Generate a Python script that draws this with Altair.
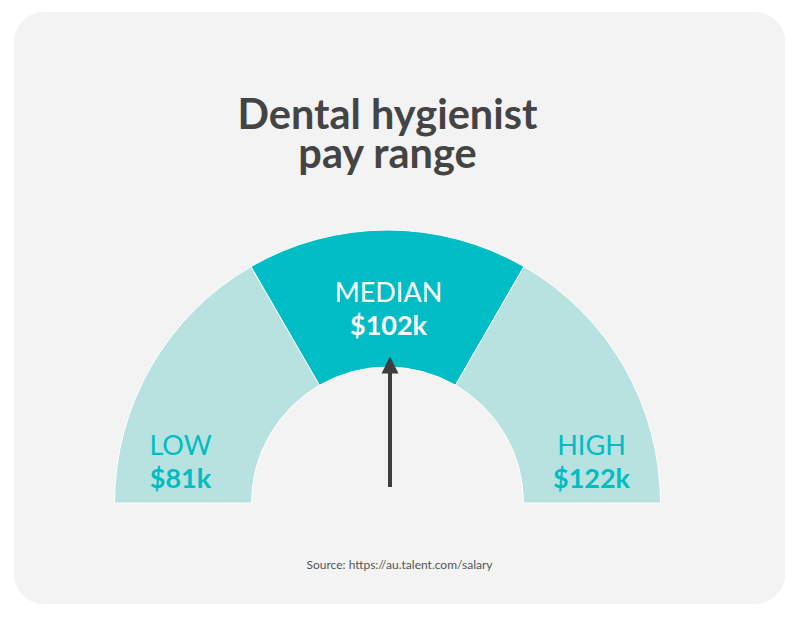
import math
import altair as alt
import pandas as pd

# ---- data ----
categories = ["LOW", "MEDIAN", "HIGH"]
salaries = ["$81k", "$102k", "$122k"]
shares = [1, 1, 1]
title_lines = ["Dental hygienist", "pay range"]
source_note = ["Source: https://au.talent.com/salary"]

# ---- style ----
TEAL = "#00bcc4"
LIGHT = "#b8e2df"
DARK = "#444444"
FONT = "Lato"

W, H = 771, 592
CX, CY = 373.5, 491
R_OUT, R_IN = 273, 136

# label layout offsets (dx from centre, baseline heights above centre)
label_layout = {
    "LOW": (-207, 48, 15),
    "MEDIAN": (1, 201, 168),
    "HIGH": (204, 48, 15),
}

df = pd.DataFrame({"category": categories, "salary": salaries,
                   "share": shares, "order": list(range(len(categories)))})

arcs = alt.Chart(df).mark_arc(radius=R_OUT, radius2=R_IN, stroke="white",
                              strokeWidth=1).encode(
    theta=alt.Theta("share:Q", stack=True,
                    scale=alt.Scale(range=[-math.pi / 2, math.pi / 2])),
    order=alt.Order("order:Q"),
    color=alt.Color("category:N",
                    scale=alt.Scale(domain=categories, range=[LIGHT, TEAL, LIGHT]),
                    legend=None),
    x=alt.value(CX),
    y=alt.value(CY),
)

layers = [arcs]
txt_color = alt.condition(alt.datum.category == "MEDIAN", alt.value("white"), alt.value(TEAL))
for cat in categories:
    dx, h1, h2 = label_layout[cat]
    base = alt.Chart(df).transform_filter(alt.datum.category == cat)
    layers.append(base.mark_text(font=FONT, fontSize=27, fontWeight="normal",
                                 align="center", baseline="alphabetic").encode(
        text="category:N", color=txt_color,
        x=alt.value(CX + dx), y=alt.value(CY - h1)))
    layers.append(base.mark_text(font=FONT, fontSize=27, fontWeight="bold",
                                 align="center", baseline="alphabetic").encode(
        text="salary:N", color=txt_color,
        x=alt.value(CX + dx), y=alt.value(CY - h2)))

# needle arrow
needle_x = CX + 2.5
arrow_df = pd.DataFrame({"category": ["MEDIAN"]})
shaft = alt.Chart(arrow_df).mark_rule(color="#3d3d3d", strokeWidth=4).encode(
    x=alt.value(needle_x), y=alt.value(CY - 16), y2=alt.value(CY - 131))
head = alt.Chart(arrow_df).mark_point(shape="M0,-1L1,1L-1,1Z", size=289, filled=True,
                                      color="#3d3d3d", opacity=1).encode(
    x=alt.value(needle_x), y=alt.value(CY - 138))
layers += [shaft, head]

for i, line in enumerate(title_lines):
    layers.append(alt.Chart(pd.DataFrame({"t": [line]})).mark_text(
        font=FONT, fontSize=41.5, fontWeight="bold", color=DARK, align="center",
        baseline="alphabetic").encode(
        text="t:N", x=alt.value(373.5), y=alt.value(117 + 39 * i)))

source = alt.Chart(pd.DataFrame({"s": source_note})).mark_text(
    font=FONT, fontSize=12, color="#555555", align="center",
    baseline="alphabetic").encode(
    text="s:N", x=alt.value(385.5), y=alt.value(557))

layers.append(source)

chart = alt.layer(*layers).properties(
    width=W, height=H,
    padding={"left": 6, "top": 4, "right": 6, "bottom": 4},
).configure(background="white").configure_view(
    fill="#f3f3f3", stroke=None, cornerRadius=30)

chart.save("out.html", embed_options={"renderer": "svg", "actions": False})
